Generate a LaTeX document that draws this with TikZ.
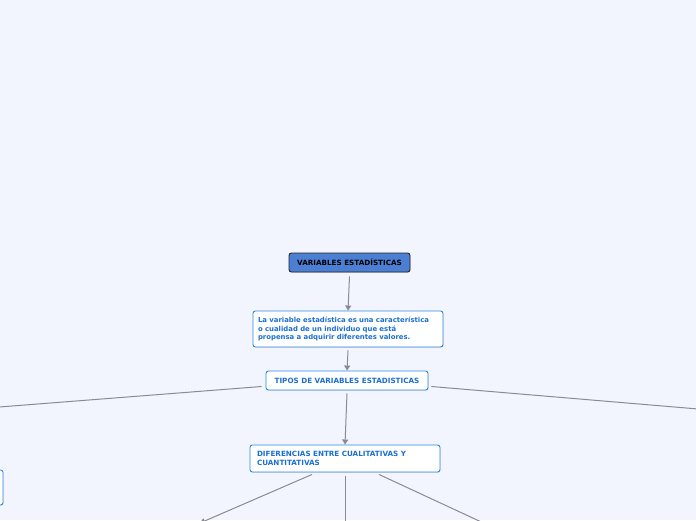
\documentclass[tikz,border=0pt]{standalone}
\usepackage{fontspec}
\setmainfont{DejaVu Sans}
\usetikzlibrary{arrows.meta,shadows}
\definecolor{bg}{HTML}{F2F5FE}
\definecolor{topfill}{HTML}{4A7FD3}
\definecolor{bluebd}{HTML}{2C8AE6}
\definecolor{bluetx}{HTML}{1B6FD2}
\definecolor{conn}{HTML}{8A8A94}
\tikzset{
  topbox/.style={draw=black!85, fill=topfill, rounded corners=2.5pt, line width=0.9pt,
    font=\bfseries\fontsize{7.2}{8}\selectfont, text=black, inner sep=0pt,
    drop shadow={shadow xshift=0.6pt, shadow yshift=-0.8pt, opacity=0.25}},
  subbox/.style={draw=bluebd, fill=white, rounded corners=2.5pt, line width=0.9pt,
    font=\bfseries\fontsize{7.2}{8.6}\selectfont, text=bluetx, inner sep=0pt,
    drop shadow={shadow xshift=0.6pt, shadow yshift=-0.8pt, opacity=0.2}},
  conline/.style={draw=conn, line width=1pt},
  conarrow/.style={conline, -{Triangle[length=5pt,width=6pt]}},
}
\begin{document}
\begin{tikzpicture}[x=1pt,y=-1pt]
\useasboundingbox[fill=bg] (0,0) rectangle (696,520);
% nodes
\node[topbox, minimum width=121pt, minimum height=19pt] (root) at (349.5,262.5) {VARIABLES ESTADÍSTICAS};
\node[subbox, font=\bfseries\fontsize{6.9}{8.6}\selectfont, minimum width=190pt, minimum height=36pt, text width=180pt, align=left] (def) at (348,329) {La variable estadística es una característica\\o cualidad de un individuo que está\\propensa a adquirir diferentes valores.};
\node[subbox, minimum width=162pt, minimum height=19pt] (tipos) at (347,380.5) {TIPOS DE VARIABLES ESTADISTICAS};
\node[subbox, minimum width=190pt, minimum height=27pt, text width=176pt, align=left] (dif) at (345,458.5) {DIFERENCIAS ENTRE CUALITATIVAS Y\\CUANTITATIVAS};
\node[subbox, minimum width=40pt, minimum height=35pt] (leftnode) at (-17,487.5) {};
% off-canvas coordinates
\coordinate (L) at (-20,408.5);
\coordinate (R) at (716,410.5);
\coordinate (B1) at (200,523);
\coordinate (B2) at (345,530);
\coordinate (B3) at (490,526);
% connectors
\draw[conarrow] ([yshift=-4pt]root.south) -- (def.north);
\draw[conarrow] ([yshift=-3pt]def.south) -- (tipos.north);
\draw[conarrow] ([yshift=-3pt]tipos.south) -- (dif.north);
\draw[conline] ([xshift=-4pt,yshift=-6pt]tipos.west) -- (L);
\draw[conline] ([xshift=3pt,yshift=-6pt]tipos.east) -- (R);
\draw[conarrow] ([xshift=-33pt,yshift=-2pt]dif.south) -- (B1);
\draw[conline] ([yshift=-4pt]dif.south) -- (B2);
\draw[conline] ([xshift=34pt,yshift=-2pt]dif.south) -- (B3);
\end{tikzpicture}
\end{document}
